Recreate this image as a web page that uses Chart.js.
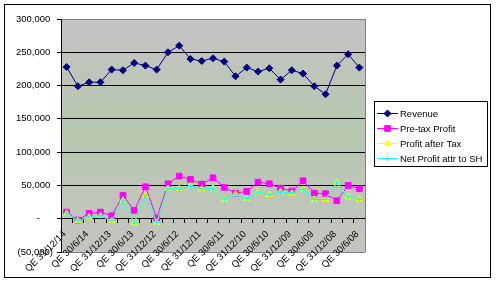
<!DOCTYPE html>
<html lang="en">
<head>
<meta charset="utf-8"/>
<title>Revenue and Profit by Quarter</title>
<script src="https://cdn.jsdelivr.net/npm/chart.js@4.4.3/dist/chart.umd.min.js"></script>
<style>
  html, body { margin: 0; padding: 0; background: #fff; }
</style>
</head>
<body>
<canvas id="profitChart" width="497" height="285"></canvas>
<script>
    // quarters, newest first (as in the source sheet)
    const quarters = [
      'QE 31/12/14', 'QE 30/9/14', 'QE 30/6/14', 'QE 31/3/14',
      'QE 31/12/13', 'QE 30/9/13', 'QE 30/6/13', 'QE 31/3/13',
      'QE 31/12/12', 'QE 30/9/12', 'QE 30/6/12', 'QE 31/3/12',
      'QE 31/12/11', 'QE 30/9/11', 'QE 30/6/11', 'QE 31/3/11',
      'QE 31/12/10', 'QE 30/9/10', 'QE 30/6/10', 'QE 31/3/10',
      'QE 31/12/09', 'QE 30/9/09', 'QE 30/6/09', 'QE 31/3/09',
      'QE 31/12/08', 'QE 30/9/08', 'QE 30/6/08'
    ];
    const revenue = [
      228000, 199000, 205000, 205000, 224000, 223000, 234000, 230000, 224000,
      250000, 260000, 240000, 237000, 241000, 236000, 214000, 227000, 221000,
      226000, 209000, 223000, 218000, 199000, 187000, 230000, 247000, 227000
    ];
    const preTaxProfit = [
      10000, -2000, 8000, 10000, 4500, 35000, 12500, 48000, 1000,
      52500, 64000, 59000, 52000, 61500, 47000, 38500, 41000, 55000,
      52500, 46000, 41500, 57000, 38500, 37500, 27000, 50000, 45000
    ];
    const profitAfterTax = [
      8000, -3000, 3000, 4500, -3000, 27500, -6500, 35000, -6000,
      45500, 45000, 49500, 44500, 46000, 28500, 37500, 30000, 40000,
      36000, 41000, 38500, 44000, 29000, 29000, 54500, 32500, 29000
    ];
    const netProfitSH = [
      8000, -3000, 3000, 4500, -3000, 27000, -6500, 35000, -6000,
      45000, 45000, 49000, 44500, 45500, 28500, 37500, 30000, 40000,
      36000, 40500, 38500, 44000, 29000, 29000, 54000, 32500, 29000
    ];
    const yTicks = { min: -50000, max: 300000, step: 50000 };

    const FONT = 'Liberation Sans, Arial, sans-serif';
    const FSIZE = 9.5;

    // plot background, plot frame, outer border and the boxed legend
    const excelFrame = {
      id: 'excelFrame',
      beforeDraw(chart) {
        const { ctx, chartArea: a } = chart;
        ctx.save();
        ctx.fillStyle = '#ffffff';
        ctx.fillRect(0, 0, chart.width, chart.height);
        const g = ctx.createLinearGradient(0, a.top, 0, a.bottom);
        g.addColorStop(0, '#c6c2c6');
        g.addColorStop(0.45, '#b6c8ae');
        g.addColorStop(1, '#c4c4c0');
        ctx.fillStyle = g;
        ctx.fillRect(a.left, a.top, a.right - a.left, a.bottom - a.top);
        ctx.restore();
      },
      afterDraw(chart) {
        const { ctx, chartArea: a } = chart;
        ctx.save();
        ctx.lineWidth = 1;
        ctx.strokeStyle = '#808080';
        ctx.beginPath();
        ctx.moveTo(Math.round(a.right) + 0.5, a.top);
        ctx.lineTo(Math.round(a.right) + 0.5, a.bottom);
        ctx.stroke();

        ctx.strokeStyle = '#000000';
        ctx.strokeRect(4.5, 4.5, 486, 273);

        // legend
        ctx.fillStyle = '#ffffff';
        ctx.fillRect(374.5, 101.5, 113, 65);
        ctx.strokeRect(374.5, 101.5, 113, 65);
        ctx.font = FSIZE + 'px ' + FONT;
        ctx.textBaseline = 'middle';
        chart.data.datasets.forEach((ds, i) => {
          const y = 113 + i * 15;
          ctx.strokeStyle = ds.borderColor;
          ctx.beginPath();
          ctx.moveTo(377, y + 0.5);
          ctx.lineTo(398, y + 0.5);
          ctx.stroke();
          ctx.fillStyle = ds.pointBackgroundColor;
          Chart.helpers.drawPoint(ctx, {
            pointStyle: ds.pointStyle, radius: ds.pointRadius, rotation: 0, borderWidth: 1
          }, 387.5, y + 0.5);
          ctx.fillStyle = '#000000';
          ctx.fillText(ds.label, 400, y + 1);
        });
        ctx.restore();
      }
    };

    function series(label, data, color, style, radius, order) {
      return {
        label, data, order,
        borderColor: color, backgroundColor: color,
        pointBackgroundColor: color, pointBorderColor: color,
        borderWidth: 1, pointStyle: style, pointRadius: radius,
        pointBorderWidth: 1, tension: 0, fill: false
      };
    }

    // accounting style: "-" for zero, brackets for negatives
    function money(v) {
      if (v === 0) return '-     ';
      if (v < 0) return '(' + Math.abs(v).toLocaleString('en-US') + ')';
      return v.toLocaleString('en-US') + ' ';
    }

    const profitChart = new Chart(document.getElementById('profitChart'), {
      type: 'line',
      data: {
        labels: quarters,
        datasets: [
          series('Revenue', revenue, '#000080', 'rectRot', 3.5, 3),
          series('Pre-tax Profit', preTaxProfit, '#ff00ff', 'rect', 4, 2),
          series('Profit after Tax', profitAfterTax, '#ffff00', 'triangle', 3.5, 1),
          series('Net Profit attr to SH', netProfitSH, '#00ffff', 'cross', 2.5, 0)
        ]
      },
      options: {
        responsive: false,
        animation: false,
        layout: { padding: { left: 0, top: 19, right: 132, bottom: 33 } },
        plugins: {
          legend: { display: false },
          tooltip: { enabled: false }
        },
        scales: {
          x: {
            type: 'category',
            position: { y: 0 },
            offset: true,
            grid: { drawOnChartArea: false, offset: true, tickLength: 4, color: '#000000', tickColor: '#000000' },
            border: { display: true, color: '#000000' },
            ticks: {
              autoSkip: false, maxRotation: 45, minRotation: 45, padding: 6, labelOffset: -2,
              color: '#000000', font: { family: FONT, size: FSIZE },
              callback: function (v, i) { return i % 2 === 0 ? this.getLabelForValue(v) : ''; }
            }
          },
          y: {
            min: yTicks.min, max: yTicks.max,
            afterFit: (scale) => { scale.width = 61; },
            grid: {
              color: (c) => (c.tick.value === yTicks.max || c.tick.value === yTicks.min) ? '#808080' : '#000000',
              tickColor: '#000000', tickLength: 4
            },
            border: { display: true, color: '#000000' },
            ticks: {
              stepSize: yTicks.step, padding: 4, color: '#000000',
              font: { family: FONT, size: FSIZE },
              callback: money
            }
          }
        }
      },
      plugins: [excelFrame]
    });
  </script>
</body>
</html>
